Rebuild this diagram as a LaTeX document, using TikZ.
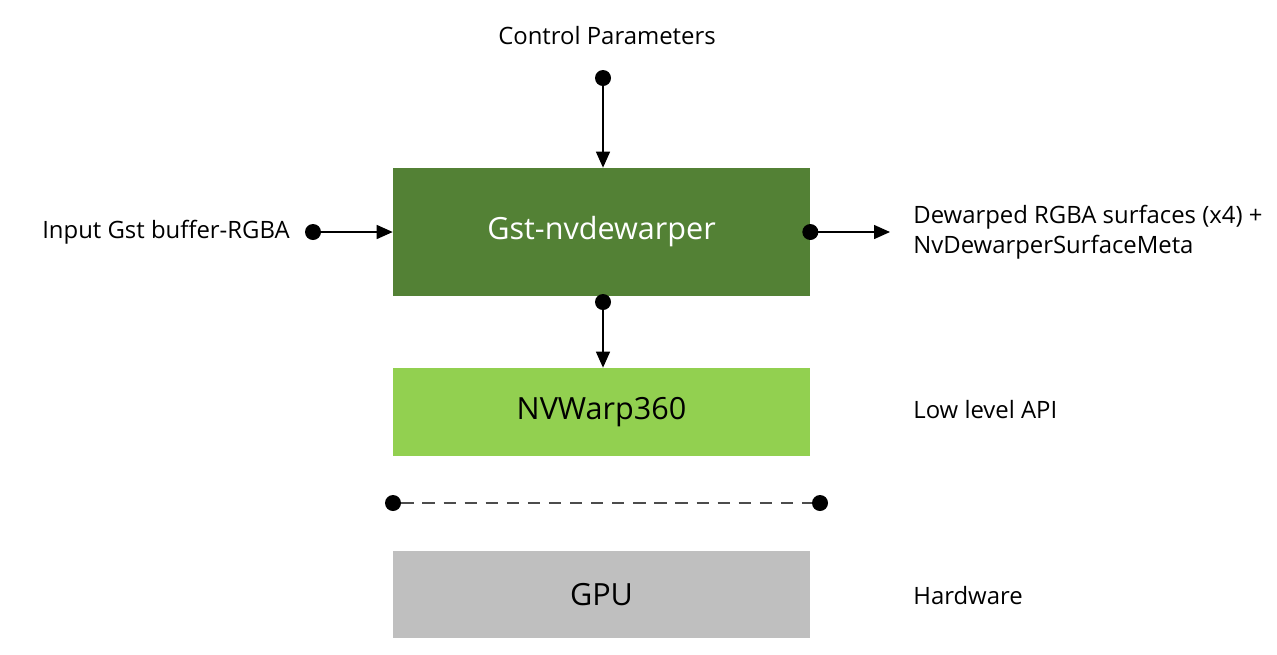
\documentclass[tikz,border=0pt]{standalone}
\usepackage{fontspec}
\setmainfont{Open Sans}
\usetikzlibrary{arrows.meta}
\definecolor{dkgreen}{HTML}{538135}
\definecolor{ltgreen}{HTML}{92D050}
\definecolor{hwgray}{HTML}{BFBFBF}

\begin{document}
\begin{tikzpicture}[x=0.02cm,y=-0.02cm,
  lbl/.style={font=\fontsize{13.6}{17}\selectfont, align=left, inner sep=0},
  blk/.style={minimum width=8.34cm, inner sep=0, font=\fontsize{17.4}{20}\selectfont},
  dot/.style={circle, fill=black, minimum size=0.32cm, inner sep=0},
  flow/.style={line width=0.8pt, -{Triangle[length=0.32cm,width=0.28cm]}}]
	%%%%% FRAME %%%%%
	\useasboundingbox (0,0) rectangle (1277,654);
	
	%%%%% BLOCKS %%%%%
	\node[blk, fill=dkgreen, text=white, minimum height=2.56cm] (dewarper) at (601.5,232) {Gst-nvdewarper};
	\node[blk, fill=ltgreen, minimum height=1.76cm] (warp) at (601.5,412) {NVWarp360};
	\node[blk, fill=hwgray, minimum height=1.74cm] (gpu) at (601.5,594.5) {GPU};
	
	%%%%% LABELS %%%%%
	\node[lbl] (ctrl) at (607,36) {Control Parameters};
	\node[lbl, anchor=east] (input) at (290,232) {Input Gst buffer-RGBA};
	\node[lbl, anchor=west] (output) at (913,232) {Dewarped RGBA surfaces (x4) +\\NvDewarperSurfaceMeta};
	\node[lbl, anchor=west] (api) at (913,410) {Low level API};
	\node[lbl, anchor=west] (hw) at (913,596) {Hardware};
	
	%%%%% DOTS %%%%%
	\node[dot] (ctrldot) at (603,78) {};
	\node[dot] (indot) at (313,232) {};
	\node[dot] (outdot) at (dewarper.east) {};
	\node[dot] (downdot) at (603,302) {};
	\node[dot] (lsep) at (393,503) {};
	\node[dot] (rsep) at (820,503) {};
	\coordinate (outend) at (890,232);
	
	%%%%% CONNECTORS %%%%%
	\draw[flow] (ctrldot.center) -- (ctrldot.center |- dewarper.north);
	\draw[flow] (indot.center) -- (dewarper.west);
	\draw[flow] (outdot.center) -- (outend);
	\draw[flow] (downdot.center) -- (downdot.center |- warp.north);
	\draw[line width=0.8pt, dash pattern=on 7pt off 5pt, black!70] (lsep) -- (rsep);
\end{tikzpicture}
\end{document}
